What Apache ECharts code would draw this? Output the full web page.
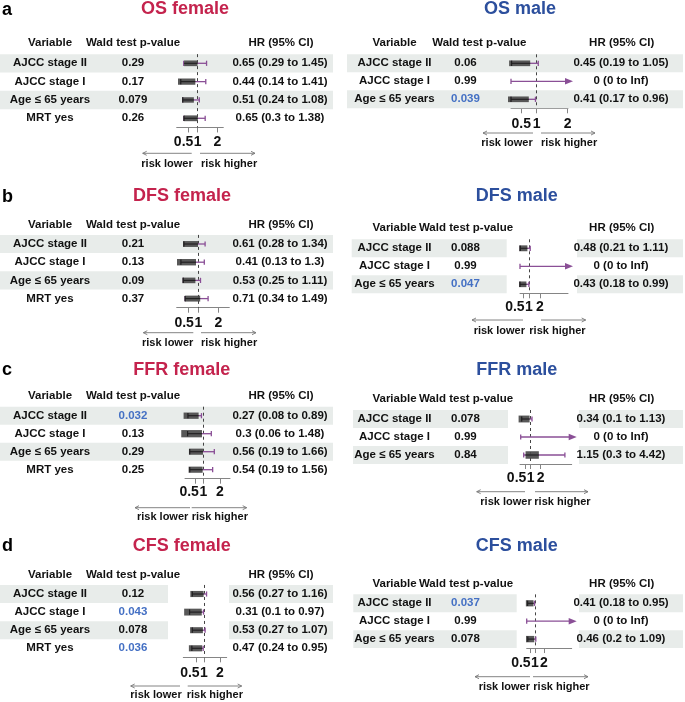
<!DOCTYPE html>
<html><head><meta charset="utf-8">
<script src="https://cdn.jsdelivr.net/npm/echarts@6/dist/echarts.min.js"></script>
<style>html,body{margin:0;padding:0;background:#fff}#c{width:685px;height:702px}</style>
</head><body><div id="c"></div>
<script>
// ---------------- data ----------------
const panelTitles = ['OS female','OS male','DFS female','DFS male','FFR female','FFR male','CFS female','CFS male'];
const panelLetters = ['a','b','c','d'];
const headers = ['Variable','Wald test p-value','HR (95% CI)'];
const femaleVars = ['AJCC stage II','AJCC stage I','Age \u2264 65 years','MRT yes'];
const maleVars = ['AJCC stage II','AJCC stage I','Age \u2264 65 years'];
const tickValues = [0.5, 1, 2];
const riskLabels = ['risk lower','risk higher'];

const osFemaleP  = [0.29, 0.17, 0.079, 0.26];
const osFemaleHR = [0.65, 0.44, 0.51, 0.65];
const osFemaleLo = [0.29, 0.14, 0.24, 0.3];
const osFemaleHi = [1.45, 1.41, 1.08, 1.38];
const osFemaleW  = [0.68, 0.88, 0.59, 0.71];

const osMaleP  = [0.06, 0.99, 0.039];
const osMaleHR = [0.45, 0, 0.41];
const osMaleLo = [0.19, 0, 0.17];
const osMaleHi = [1.05, Infinity, 0.96];
const osMaleW  = [0.68, 0, 0.67];

const dfsFemaleP  = [0.21, 0.13, 0.09, 0.37];
const dfsFemaleHR = [0.61, 0.41, 0.53, 0.71];
const dfsFemaleLo = [0.28, 0.13, 0.25, 0.34];
const dfsFemaleHi = [1.34, 1.3, 1.11, 1.49];
const dfsFemaleW  = [0.75, 0.95, 0.65, 0.77];

const dfsMaleP  = [0.088, 0.99, 0.047];
const dfsMaleHR = [0.48, 0, 0.43];
const dfsMaleLo = [0.21, 0, 0.18];
const dfsMaleHi = [1.11, Infinity, 0.99];
const dfsMaleW  = [0.75, 0, 0.67];

const ffrFemaleP  = [0.032, 0.13, 0.29, 0.25];
const ffrFemaleHR = [0.27, 0.3, 0.56, 0.54];
const ffrFemaleLo = [0.08, 0.06, 0.19, 0.19];
const ffrFemaleHi = [0.89, 1.48, 1.66, 1.56];
const ffrFemaleW  = [0.9, 1.24, 0.84, 0.84];

const ffrMaleP  = [0.078, 0.99, 0.84];
const ffrMaleHR = [0.34, 0, 1.15];
const ffrMaleLo = [0.1, 0, 0.3];
const ffrMaleHi = [1.13, Infinity, 4.42];
const ffrMaleW  = [1.1, 0, 1.33];

const cfsFemaleP  = [0.12, 0.043, 0.078, 0.036];
const cfsFemaleHR = [0.56, 0.31, 0.53, 0.47];
const cfsFemaleLo = [0.27, 0.1, 0.27, 0.24];
const cfsFemaleHi = [1.16, 0.97, 1.07, 0.95];
const cfsFemaleW  = [0.83, 1.1, 0.8, 0.83];

const cfsMaleP  = [0.037, 0.99, 0.078];
const cfsMaleHR = [0.41, 0, 0.46];
const cfsMaleLo = [0.18, 0, 0.2];
const cfsMaleHi = [0.95, Infinity, 1.09];
const cfsMaleW  = [0.85, 0, 0.92];

// ---------------- assembly ----------------
const panels = [
  {sex:'f', vars:femaleVars, p:osFemaleP,  hr:osFemaleHR,  lo:osFemaleLo,  hi:osFemaleHi,  w:osFemaleW},
  {sex:'m', vars:maleVars,   p:osMaleP,    hr:osMaleHR,    lo:osMaleLo,    hi:osMaleHi,    w:osMaleW},
  {sex:'f', vars:femaleVars, p:dfsFemaleP, hr:dfsFemaleHR, lo:dfsFemaleLo, hi:dfsFemaleHi, w:dfsFemaleW},
  {sex:'m', vars:maleVars,   p:dfsMaleP,   hr:dfsMaleHR,   lo:dfsMaleLo,   hi:dfsMaleHi,   w:dfsMaleW},
  {sex:'f', vars:femaleVars, p:ffrFemaleP, hr:ffrFemaleHR, lo:ffrFemaleLo, hi:ffrFemaleHi, w:ffrFemaleW},
  {sex:'m', vars:maleVars,   p:ffrMaleP,   hr:ffrMaleHR,   lo:ffrMaleLo,   hi:ffrMaleHi,   w:ffrMaleW},
  {sex:'f', vars:femaleVars, p:cfsFemaleP, hr:cfsFemaleHR, lo:cfsFemaleLo, hi:cfsFemaleHi, w:cfsFemaleW},
  {sex:'m', vars:maleVars,   p:cfsMaleP,   hr:cfsMaleHR,   lo:cfsMaleLo,   hi:cfsMaleHi,   w:cfsMaleW}
];

// layout (pixels)
const FX = {hx:[50,133,281], cx:[50,133,280]};
const layouts = [
  {x0:0,   tx:185,   ty:9,   hy:43.3,  hx:FX.hx, cx:FX.cx, r0:63.3,  rh:18.33, one:197.7, ppu:19.7, ax:[176.7,223.3], tly:141.7, ay:153.3, aL:[191.7,142.7], aR:[200,255],   ry:164,   rL:192.7, rR:201,   sh:[[0,333]]},
  {x0:342, tx:520,   ty:9,   hy:43.3,  hx:[394.5,479.3,621.7], cx:[394.5,465.5,621], r0:63.3, rh:18, one:536.7, ppu:31, ax:[511,568], tly:124, ay:133, aL:[533,483], aR:[541,595], ry:143, rL:532.7, rR:541, sh:[[347,683]]},
  {x0:0,   tx:182,   ty:196, hy:225,   hx:FX.hx, cx:FX.cx, r0:244,   rh:18.2,  one:198.3, ppu:20,   ax:[176.7,229.3], tly:322.7, ay:332.7, aL:[193.3,143.3], aR:[201,256],   ry:342.7, rL:193.3, rR:201,   sh:[[0,333]]},
  {x0:342, tx:516.7, ty:196, hy:228.3, hx:[394.5,466,621.7], cx:[394.5,465.5,621], r0:248.3, rh:18, one:529, ppu:11, ax:[520,568], tly:306.7, ay:320, aL:[523,472], aR:[541,585.7], ry:331, rL:525, rR:529.3, sh:[[351.7,506.7],[577,683]]},
  {x0:0,   tx:181.7, ty:370, hy:395.7, hx:FX.hx, cx:FX.cx, r0:415.7, rh:18,    one:203.3, ppu:16.7, ax:[185,230],     tly:491.7, ay:507.7, aL:[190,135],     aR:[191.7,246.7], ry:516.7, rL:188.3, rR:191.7, sh:[[0,333]]},
  {x0:342, tx:516.7, ty:370, hy:399.3, hx:[394.5,466,621.7], cx:[394.5,465.5,621], r0:419, rh:18, one:530.7, ppu:10, ax:[520,571.7], tly:477.7, ay:491.7, aL:[525,476.7], aR:[535,588], ry:501.7, rL:531.7, rR:534.3, sh:[[353,508],[579,683]]},
  {x0:0,   tx:181.7, ty:546, hy:575,   hx:FX.hx, cx:FX.cx, r0:594,   rh:18.1,  one:204,   ppu:16,   ax:[183.3,226.7], tly:673.3, ay:686,   aL:[180,130.7],   aR:[187.7,241.7], ry:695,   rL:181.7, rR:186.7, sh:[[0,168],[229,333]]},
  {x0:342, tx:516.7, ty:546, hy:584,   hx:[394.5,466,621.7], cx:[394.5,465.5,621], r0:603.3, rh:17.9, one:535, ppu:9, ax:[526.7,571.7], tly:662.7, ay:676.7, aL:[530,475], aR:[533,588], ry:686.7, rL:530, rR:533.3, sh:[[353.3,516.7],[579,683]]}
];
const letterY = [10, 196.7, 370, 546];

const FONT = '"Liberation Sans", Arial, Helvetica, sans-serif';
const COL = {female:'#c4234d', male:'#2c4f9d', pblue:'#4470c4', shade:'#e8ecea', purple:'#8a4f96', box:'#4a4a4a', dark:'#1e1e1e', axis:'#858585', text:'#111'};
const mctx = document.createElement('canvas').getContext('2d');
function tw(t, size){ mctx.font = 'bold ' + size + 'px ' + FONT; return mctx.measureText(t).width; }
const fmt = v => (isFinite(v) ? String(v) : 'Inf');

const grid = [], xAxis = [], yAxis = [], series = [], graphic = [];

panels.forEach((P, pi) => {
  const Lh = layouts[pi];
  const n = P.vars.length;
  const top = Lh.r0 - Lh.rh / 2, height = n * Lh.rh;
  const xmin = 1 - (Lh.one - Lh.ax[0]) / Lh.ppu;
  const xmax = 1 + (Lh.ax[1] - Lh.one) / Lh.ppu;

  // table grid : x in page pixels, y in row units
  const gT = grid.length;
  grid.push({left: 0, top: top, width: 685, height: height});
  xAxis.push({gridIndex: gT, type: 'value', min: 0, max: 685, show: false});
  yAxis.push({gridIndex: gT, type: 'value', min: -0.5, max: n - 0.5, inverse: true, show: false});
  // forest grid
  const gF = grid.length;
  grid.push({left: Lh.ax[0], top: top, width: Lh.ax[1] - Lh.ax[0], height: height});
  xAxis.push({gridIndex: gF, type: 'value', min: xmin, max: xmax, position: 'bottom',
    axisLine: {show: true, onZero: false, lineStyle: {color: COL.axis, width: 1}},
    axisTick: {show: true, customValues: tickValues, length: 5, inside: false, lineStyle: {color: COL.axis, width: 1}},
    axisLabel: {show: false}, splitLine: {show: false}});
  yAxis.push({gridIndex: gF, type: 'value', min: -0.5, max: n - 0.5, inverse: true, show: false});

  // shading rows
  const shadeItems = [];
  P.vars.forEach((v, i) => { if (i % 2 === 0) Lh.sh.forEach(s => shadeItems.push([s[0], i, s[1]])); });
  series.push({type: 'custom', xAxisIndex: gT, yAxisIndex: gT, z: 1, silent: true,
    data: shadeItems, encode: {x: 0, y: 1},
    renderItem: (params, api) => {
      const d = shadeItems[params.dataIndex];
      const p1 = api.coord([d[0], d[1]]), p2 = api.coord([d[2], d[1]]);
      const h = api.size([0, 1])[1];
      return {type: 'rect', shape: {x: p1[0], y: p1[1] - h / 2, width: p2[0] - p1[0], height: h}, style: {fill: COL.shade}};
    }});

  // table texts
  const hv = (Lh.hy - Lh.r0) / Lh.rh;
  const texts = [];
  headers.forEach((h, k) => texts.push({x: Lh.hx[k], y: hv, t: h, c: COL.text}));
  P.vars.forEach((v, i) => {
    texts.push({x: Lh.cx[0], y: i, t: v, c: COL.text});
    texts.push({x: Lh.cx[1], y: i, t: String(P.p[i]), c: P.p[i] < 0.05 ? COL.pblue : COL.text});
    texts.push({x: Lh.cx[2], y: i, t: fmt(P.hr[i]) + ' (' + fmt(P.lo[i]) + ' to ' + fmt(P.hi[i]) + ')', c: COL.text});
  });
  series.push({type: 'custom', xAxisIndex: gT, yAxisIndex: gT, z: 3, silent: true,
    data: texts.map(d => [d.x, d.y]), encode: {x: 0, y: 1},
    renderItem: (params, api) => {
      const d = texts[params.dataIndex];
      const p = api.coord([d.x, d.y]);
      return {type: 'text', x: p[0], y: p[1], style: {text: d.t, fill: d.c, fontSize: 11.5, fontWeight: 'bold', fontFamily: FONT, align: 'center', verticalAlign: 'middle'}};
    }});

  // forest marks
  series.push({type: 'custom', xAxisIndex: gF, yAxisIndex: gF, z: 5, silent: true, clip: false,
    data: P.hr.map((v, i) => [isFinite(P.hi[i]) ? v : 1, i]), encode: {x: 0, y: 1},
    renderItem: (params, api) => {
      const i = params.dataIndex;
      const est = P.hr[i], lo = P.lo[i], hi = P.hi[i], w = P.w[i];
      const yc = api.coord([1, i])[1];
      const X = v => api.coord([v, i])[0];
      const ch = [];
      const lx = X(Math.max(lo, xmin));
      const cap = 2.6, lw = 1.3;
      if (!isFinite(hi)) {
        const ex = X(xmax) + 1;
        ch.push({type: 'line', shape: {x1: lx, y1: yc, x2: ex, y2: yc}, style: {stroke: COL.purple, lineWidth: lw}});
        ch.push({type: 'line', shape: {x1: lx, y1: yc - cap, x2: lx, y2: yc + cap}, style: {stroke: COL.purple, lineWidth: lw}});
        ch.push({type: 'polygon', shape: {points: [[ex + 4, yc], [ex - 4, yc - 3.2], [ex - 4, yc + 3.2]]}, style: {fill: COL.purple}});
      } else {
        const hx = X(hi);
        ch.push({type: 'line', shape: {x1: lx, y1: yc, x2: hx, y2: yc}, style: {stroke: COL.purple, lineWidth: lw}});
        ch.push({type: 'line', shape: {x1: lx, y1: yc - cap, x2: lx, y2: yc + cap}, style: {stroke: COL.purple, lineWidth: lw}});
        ch.push({type: 'line', shape: {x1: hx, y1: yc - cap, x2: hx, y2: yc + cap}, style: {stroke: COL.purple, lineWidth: lw}});
        const b1 = X(est - w / 2), b2 = X(est + w / 2);
        const bh = 3.8 + 2.8 * w;
        ch.push({type: 'rect', shape: {x: b1, y: yc - bh / 2, width: b2 - b1, height: bh}, style: {fill: COL.box, opacity: 0.92}});
        const i1 = Math.max(b1, lx), i2 = Math.min(b2, hx);
        if (i2 > i1) ch.push({type: 'line', shape: {x1: i1, y1: yc, x2: i2, y2: yc}, style: {stroke: COL.dark, lineWidth: 1}});
        [lx, hx].forEach(cx => { if (cx >= b1 && cx <= b2) ch.push({type: 'line', shape: {x1: cx, y1: yc - cap, x2: cx, y2: yc + cap}, style: {stroke: COL.dark, lineWidth: 1.1}}); });
      }
      return {type: 'group', children: ch};
    }});

  // dashed reference line at HR = 1
  series.push({type: 'line', xAxisIndex: gF, yAxisIndex: gF, data: [], z: 4, silent: true,
    markLine: {silent: true, symbol: ['none', 'none'], label: {show: false},
      lineStyle: {color: '#444', width: 1, type: [3, 3]}, data: [{xAxis: 1}]}});

  // tick labels (positioned by the axis scale, 0.5 nudged left to avoid overlapping "1")
  const tSize = 14;
  series.push({type: 'custom', xAxisIndex: gF, yAxisIndex: gF, z: 5, silent: true, clip: false,
    data: tickValues.map(v => [v, n - 0.5]), encode: {x: 0, y: 1},
    renderItem: (params, api) => {
      const v = tickValues[params.dataIndex];
      const t = String(v);
      let x = api.coord([v, 0])[0];
      if (v === 0.5) {
        const x1 = api.coord([1, 0])[0];
        const right = Math.min(x + tw(t, tSize) / 2, x1 - tw('1', tSize) / 2 - 0.5);
        x = right - tw(t, tSize) / 2;
      }
      return {type: 'text', x: x, y: Lh.tly, style: {text: t, fill: COL.text, fontSize: tSize, fontWeight: 'bold', fontFamily: FONT, align: 'center', verticalAlign: 'middle'}};
    }});

  // title
  graphic.push({type: 'text', x: Lh.tx, y: Lh.ty, style: {text: panelTitles[pi], fill: P.sex === 'f' ? COL.female : COL.male, fontSize: 18, fontWeight: 'bold', fontFamily: FONT, align: 'center', verticalAlign: 'middle'}});
  // direction arrows
  const arrow = (x1, x2, y) => {
    const dir = x2 < x1 ? 1 : -1;
    graphic.push({type: 'line', shape: {x1: x1, y1: y, x2: x2, y2: y}, style: {stroke: '#777', lineWidth: 0.9}});
    graphic.push({type: 'polyline', shape: {points: [[x2 + dir * 4, y - 2], [x2, y], [x2 + dir * 4, y + 2]]}, style: {stroke: '#777', lineWidth: 0.9, fill: null}});
  };
  arrow(Lh.aL[0], Lh.aL[1], Lh.ay);
  arrow(Lh.aR[0], Lh.aR[1], Lh.ay);
  graphic.push({type: 'text', x: Lh.rL, y: Lh.ry, style: {text: riskLabels[0], fill: COL.text, fontSize: 11, fontWeight: 'bold', fontFamily: FONT, align: 'right', verticalAlign: 'middle'}});
  graphic.push({type: 'text', x: Lh.rR, y: Lh.ry, style: {text: riskLabels[1], fill: COL.text, fontSize: 11, fontWeight: 'bold', fontFamily: FONT, align: 'left', verticalAlign: 'middle'}});
});

panelLetters.forEach((l, k) => {
  graphic.push({type: 'text', x: 2, y: letterY[k], style: {text: l, fill: '#000', fontSize: 18, fontWeight: 'bold', fontFamily: FONT, align: 'left', verticalAlign: 'middle'}});
});

const chart = echarts.init(document.getElementById('c'), null, {renderer: 'canvas'});
chart.setOption({
  animation: false,
  backgroundColor: '#fff',
  textStyle: {fontFamily: FONT},
  grid: grid, xAxis: xAxis, yAxis: yAxis, series: series,
  graphic: {elements: graphic}
});
</script>
</body></html>
